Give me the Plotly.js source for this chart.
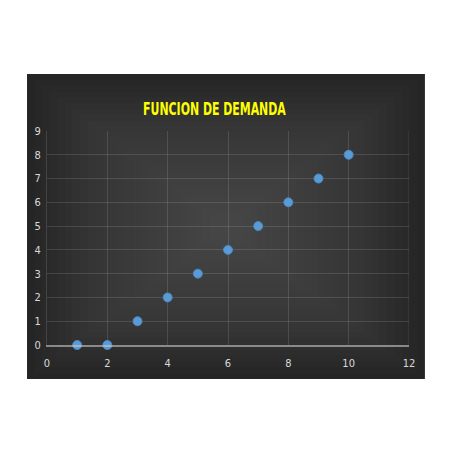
<!DOCTYPE html>
<html><head><meta charset="utf-8">
<script src="https://cdn.plot.ly/plotly-3.0.1.min.js"></script>
<style>html,body{margin:0;padding:0;background:#fff;}#chart{width:453px;height:453px;}</style>
</head><body><div id="chart"></div>
<script>
const xValues = [1, 2, 3, 4, 5, 6, 7, 8, 9, 10];
const yValues = [0, 0, 1, 2, 3, 4, 5, 6, 7, 8];
const chartTitle = "FUNCION DE DEMANDA";
const xTicks = [0, 2, 4, 6, 8, 10, 12];
const yTicks = [0, 1, 2, 3, 4, 5, 6, 7, 8, 9];

const bgShapes = [];
const x0 = -0.0552, x1 = 1.044, y0 = -0.159, y1 = 1.266;
bgShapes.push({type:'rect', xref:'paper', yref:'paper', x0:x0, x1:x1, y0:y0, y1:y1,
  fillcolor:'#252525', line:{width:0}, layer:'below'});
const steps = 24;
for (let i = 1; i <= steps; i++) {
  const f = i / (steps + 1);
  const cx = (x0 + x1) / 2, cy = (y0 + y1) / 2;
  const hw = (x1 - x0) / 2 * (1 - f * 0.95), hh = (y1 - y0) / 2 * (1 - f * 0.95);
  bgShapes.push({type:'rect', xref:'paper', yref:'paper', x0:cx-hw, x1:cx+hw, y0:cy-hh, y1:cy+hh,
    fillcolor:'rgba(85,85,85,0.06)', line:{width:0}, layer:'below'});
}

const trace = {
  x: xValues, y: yValues, type:'scatter', mode:'markers',
  marker:{color:'#5b9bd5', size:9, line:{color:'#4a88c2', width:1}},
  cliponaxis:false, hoverinfo:'none'
};
const tickFont = {family:'DejaVu Sans Condensed, Liberation Sans, sans-serif', size:11, color:'#d9d9d9'};
const layout = {
  width:453, height:453,
  paper_bgcolor:'#ffffff', plot_bgcolor:'rgba(0,0,0,0)',
  margin:{l:47, r:44, t:131, b:108},
  showlegend:false,
  title:{text:chartTitle, x:0.475, xanchor:'center', y:(453-109)/453, yanchor:'middle',
    font:{family:'DejaVu Sans Condensed, Liberation Sans, sans-serif', size:17, color:'#ffff00', weight:'bold'}},
  xaxis:{range:[0,12], tickvals:xTicks, ticktext:xTicks.map(String), showgrid:true,
    gridcolor:'rgba(255,255,255,0.12)', gridwidth:1, zeroline:false, showline:true,
    linecolor:'rgba(200,200,200,0.6)', linewidth:1.5, mirror:false,
    tickfont:tickFont, ticks:'', ticklen:0, ticklabelstandoff:7, fixedrange:true},
  yaxis:{range:[0,9], tickvals:yTicks, ticktext:yTicks.map(String), showgrid:true,
    gridcolor:'rgba(255,255,255,0.12)', gridwidth:1, zeroline:false, showline:true,
    linecolor:'rgba(255,255,255,0.12)', linewidth:1,
    tickfont:tickFont, ticks:'', ticklen:0, ticklabelstandoff:3, fixedrange:true},
  shapes: bgShapes.concat([{type:'line', xref:'x', yref:'y', x0:12, x1:12, y0:0, y1:9,
    line:{color:'rgba(255,255,255,0.12)', width:1}}])
};
Plotly.newPlot('chart', [trace], layout, {displayModeBar:false, staticPlot:true}).then(function(){
  const t = document.querySelector('.gtitle');
  if (t) {
    const bb = t.getBBox();
    const target = 143;
    if (bb.width > target) {
      const sx = target / bb.width;
      const cx = 214.5;
      const ocx = bb.x + bb.width / 2;
      t.setAttribute('transform', 'translate(' + cx + ',0) scale(' + sx + ',1) translate(' + (-ocx) + ',0)');
    }
  }
});
</script></body></html>
